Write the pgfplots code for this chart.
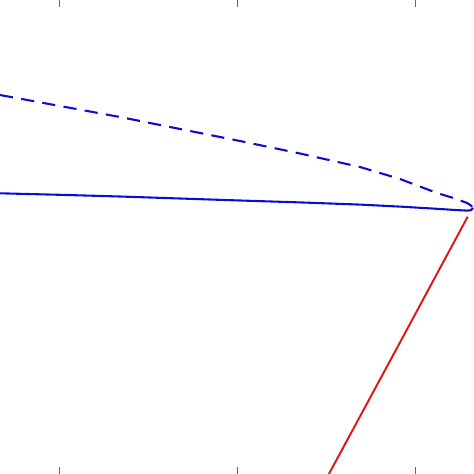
\documentclass[border=0pt]{standalone}
\usepackage{pgfplots}
\pgfplotsset{compat=1.18}
\definecolor{lineblue}{rgb}{0.05,0.05,0.82}
\definecolor{linered}{rgb}{0.88,0.08,0.08}
\begin{document}
\begin{tikzpicture}
\begin{axis}[
    width=12cm, height=12cm,
    scale only axis,
    xmin=0, xmax=474,
    ymin=0, ymax=474,
    y dir=reverse,
    axis line style={draw=none},
    xtick={59.3,237,415},
    xticklabel=\empty,
    ytick=\empty,
    major tick length=5pt,
    tick style={gray!80!black, line width=0.7pt},
    tick align=inside,
]
% upper (dashed) branch
\addplot[lineblue, line width=1.5pt, dash pattern=on 9.5pt off 6pt] coordinates {
(0,95) (60,106) (120,117) (180,129) (240,141) (300,153.5) (360,167)
(400,179) (437,193) (455,198.5) (467,203) (471,205.5) (473,208)
};
% lower (solid) branch
\addplot[lineblue, line width=1.5pt] coordinates {
(0,193.3) (60,194.8) (120,196.5) (180,198.5) (240,200.5) (300,202.4)
(360,204.6) (400,206.6) (437,208.8) (455,210) (467,210.6) (471,210.2) (473,208)
};
% red branch
\addplot[linered, line width=1.4pt] coordinates {
(467.7,216.7) (399.5,343.3) (329.3,473.3) (328.9,474.5)
};
\end{axis}
\pgfresetboundingbox
\path (current axis.south west) rectangle (current axis.north east);
\end{tikzpicture}
\end{document}
